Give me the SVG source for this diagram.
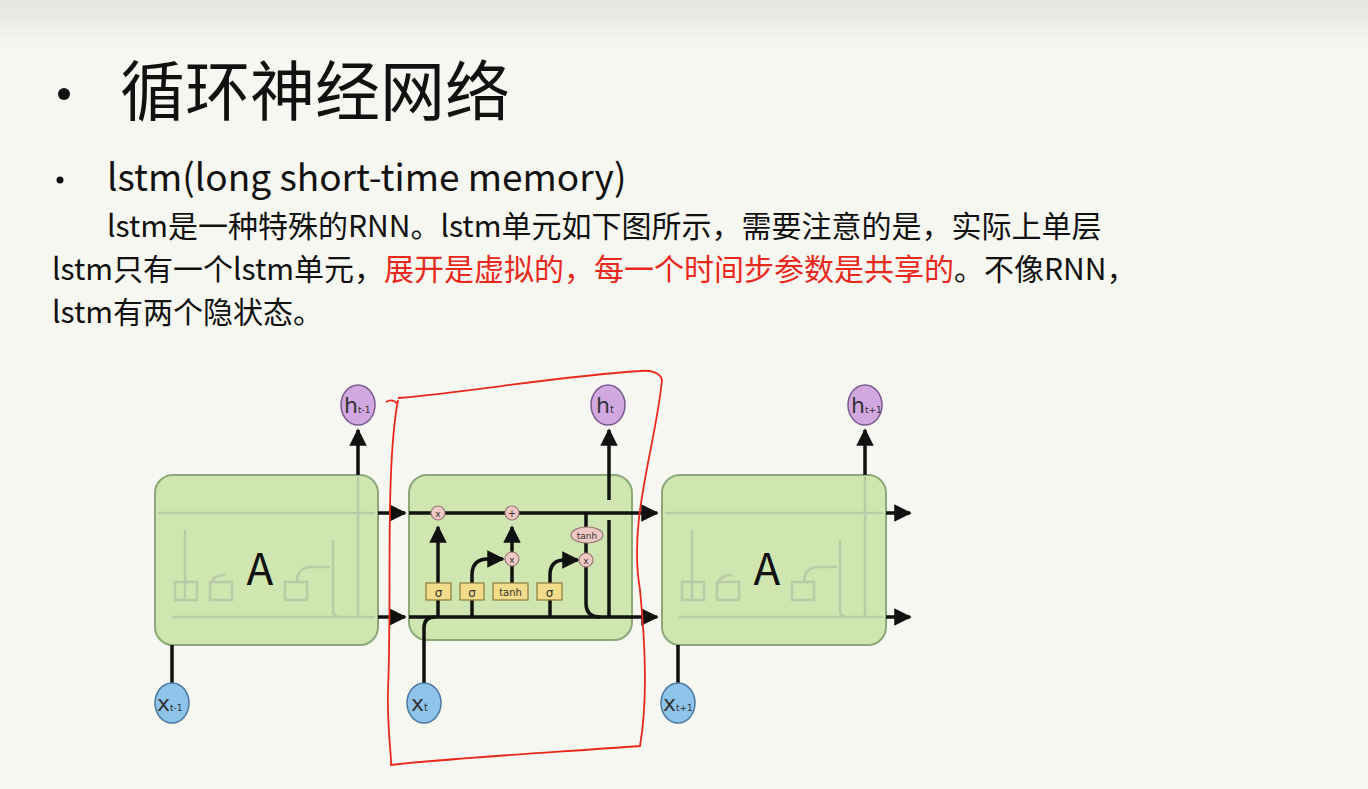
<svg xmlns="http://www.w3.org/2000/svg" width="1368" height="789" viewBox="0 0 1368 789">
<defs>
<marker id="ar" viewBox="0 0 10 10" refX="9" refY="5" markerWidth="5" markerHeight="5" orient="auto"><path d="M0,0L10,5L0,10z" fill="#111"/></marker>
<linearGradient id="bg" x1="0" y1="0" x2="0" y2="1"><stop offset="0" stop-color="#e4e4e0"/><stop offset="0.06" stop-color="#f6f7f0"/><stop offset="1" stop-color="#f6f7f0"/></linearGradient>
</defs>
<style>
.t{font-family:"Noto Sans CJK SC","Liberation Sans",sans-serif;fill:#111}
.box{fill:#cfe6b0;stroke:#8aa878;stroke-width:2}
.ln{fill:none;stroke:#111;stroke-width:3.5}
.gl{fill:none;stroke:#b9cba6;stroke-width:2.5}
.op{fill:#f0c8c4;stroke:#9a7a7a;stroke-width:1.2}
.gate{fill:#f2dc8a;stroke:#8a7a3a;stroke-width:1.2}
.h{fill:#d2a8e0;stroke:#7a5a90;stroke-width:1.5}
.x{fill:#8fc4ea;stroke:#4a78a0;stroke-width:1.5}
.s{font-family:"DejaVu Sans",sans-serif;fill:#333}
</style>
<rect width="1368" height="789" fill="url(#bg)"/>
<g id="text">
<circle cx="64" cy="94" r="6" fill="#111"/>
<text class="t" x="120" y="115" font-size="65">循环神经网络</text>
<circle cx="60" cy="180" r="3.5" fill="#111"/>
<text class="t" x="107" y="191" font-size="37">lstm(long short-time memory)</text>
<text class="t" x="107" y="237" font-size="30">lstm是一种特殊的RNN。lstm单元如下图所示，需要注意的是，实际上单层</text>
<text class="t" x="52" y="280" font-size="30">lstm只有一个lstm单元，<tspan fill="#e8281c">展开是虚拟的，每一个时间步参数是共享的</tspan>。不像RNN，</text>
<text class="t" x="52" y="323" font-size="30">lstm有两个隐状态。</text>
</g>
<g id="cell1">
<rect class="box" x="155" y="475" width="223" height="170" rx="18"/>
<path class="gl" d="M158,513H375M172,617H375M185,600V530M175,582h22v18h-22zM210,582h22v18h-22zM285,582h22v18h-22zM210,600v-10q0,-15 15,-15M297,582q0,-15 15,-15h18M333,540v70q0,7 7,7M358,475V617"/>
<text class="t" x="260" y="585" font-size="44" text-anchor="middle" font-family="Liberation Sans,sans-serif">A</text>
</g>
<g id="cell3">
<rect class="box" x="662" y="475" width="224" height="170" rx="18"/>
<path class="gl" d="M665,513H883M679,617H883M692,600V530M682,582h22v18h-22zM717,582h22v18h-22zM792,582h22v18h-22zM717,600v-10q0,-15 15,-15M804,582q0,-15 15,-15h18M840,540v70q0,7 7,7M865,475V617"/>
<text class="t" x="767" y="585" font-size="44" text-anchor="middle" font-family="Liberation Sans,sans-serif">A</text>
</g>
<g id="cell2">
<rect class="box" x="409" y="475" width="223" height="165" rx="18"/>
</g>
<g id="connectors">
<path class="ln" d="M172,685V645"/>
<path class="ln" d="M678,685V645"/>
<path class="ln" d="M358,475V430" marker-end="url(#ar)"/>
<path class="ln" d="M378,513H405" marker-end="url(#ar)"/>
<path class="ln" d="M378,617H405" marker-end="url(#ar)"/>
<path class="ln" d="M409,513H657" marker-end="url(#ar)"/>
<path class="ln" d="M409,617H657" marker-end="url(#ar)"/>
<path class="ln" d="M865,475V430" marker-end="url(#ar)"/>
<path class="ln" d="M886,513H910" marker-end="url(#ar)"/>
<path class="ln" d="M886,617H910" marker-end="url(#ar)"/>
<path class="ln" d="M424,685V628q0,-11 11,-11"/>
<path class="ln" d="M438,617V527" marker-end="url(#ar)"/>
<path class="ln" d="M472,617V575q0,-16 16,-16h15" marker-end="url(#ar)"/>
<path class="ln" d="M512,600V527" marker-end="url(#ar)"/>
<path class="ln" d="M550,617V575q0,-15 15,-15h13" marker-end="url(#ar)"/>
<path class="ln" d="M586,513V603q0,14 14,14"/>
<path class="ln" d="M609,617V520"/>
<path class="ln" d="M609,500V430" marker-end="url(#ar)"/>
</g>
<g id="ops">
<rect class="gate" x="426" y="583" width="25" height="17"/><text class="s" x="438.5" y="597" font-size="12" text-anchor="middle">σ</text>
<rect class="gate" x="460" y="583" width="24" height="17"/><text class="s" x="472" y="597" font-size="12" text-anchor="middle">σ</text>
<rect class="gate" x="493" y="583" width="35" height="17"/><text class="s" x="510.5" y="596" font-size="10" text-anchor="middle">tanh</text>
<rect class="gate" x="537" y="583" width="25" height="17"/><text class="s" x="549.5" y="597" font-size="12" text-anchor="middle">σ</text>
<circle class="op" cx="438" cy="513" r="7"/><text class="s" x="438" y="517" font-size="9" text-anchor="middle">x</text>
<circle class="op" cx="512" cy="513" r="7"/><text class="s" x="512" y="517" font-size="10" text-anchor="middle">+</text>
<circle class="op" cx="512" cy="559" r="7"/><text class="s" x="512" y="563" font-size="9" text-anchor="middle">x</text>
<circle class="op" cx="586" cy="560" r="7"/><text class="s" x="586" y="564" font-size="9" text-anchor="middle">x</text>
<ellipse class="op" cx="587" cy="535" rx="16" ry="8"/><text class="s" x="587" y="539" font-size="9" text-anchor="middle">tanh</text>
</g>
<g id="h1"><ellipse class="h" cx="358" cy="405" rx="17" ry="20"/><text class="s" x="344" y="413" font-size="22">h<tspan font-size="9">t-1</tspan></text></g>
<g id="h2"><ellipse class="h" cx="608" cy="405" rx="17" ry="20"/><text class="s" x="596" y="413" font-size="22">h<tspan font-size="10">t</tspan></text></g>
<g id="h3"><ellipse class="h" cx="865" cy="405" rx="17" ry="20"/><text class="s" x="851" y="413" font-size="22">h<tspan font-size="9">t+1</tspan></text></g>
<g id="x1"><ellipse class="x" cx="172" cy="703" rx="17" ry="20"/><text class="s" x="157" y="711" font-size="22">x<tspan font-size="9">t-1</tspan></text></g>
<g id="x2"><ellipse class="x" cx="424" cy="703" rx="17" ry="20"/><text class="s" x="411" y="711" font-size="22">x<tspan font-size="10">t</tspan></text></g>
<g id="x3"><ellipse class="x" cx="678" cy="703" rx="17" ry="20"/><text class="s" x="663" y="711" font-size="22">x<tspan font-size="9">t+1</tspan></text></g>
<path d="M386,402Q392,398 398,404M398,400C385,470 392,600 388,690C387,730 392,760 391,765C450,758 560,752 640,746C648,700 645,640 640,590C628,520 655,450 662,380C660,372 650,370 640,371C560,376 470,392 398,398" fill="none" stroke="#e8281c" stroke-width="1.8"/>
</svg>
